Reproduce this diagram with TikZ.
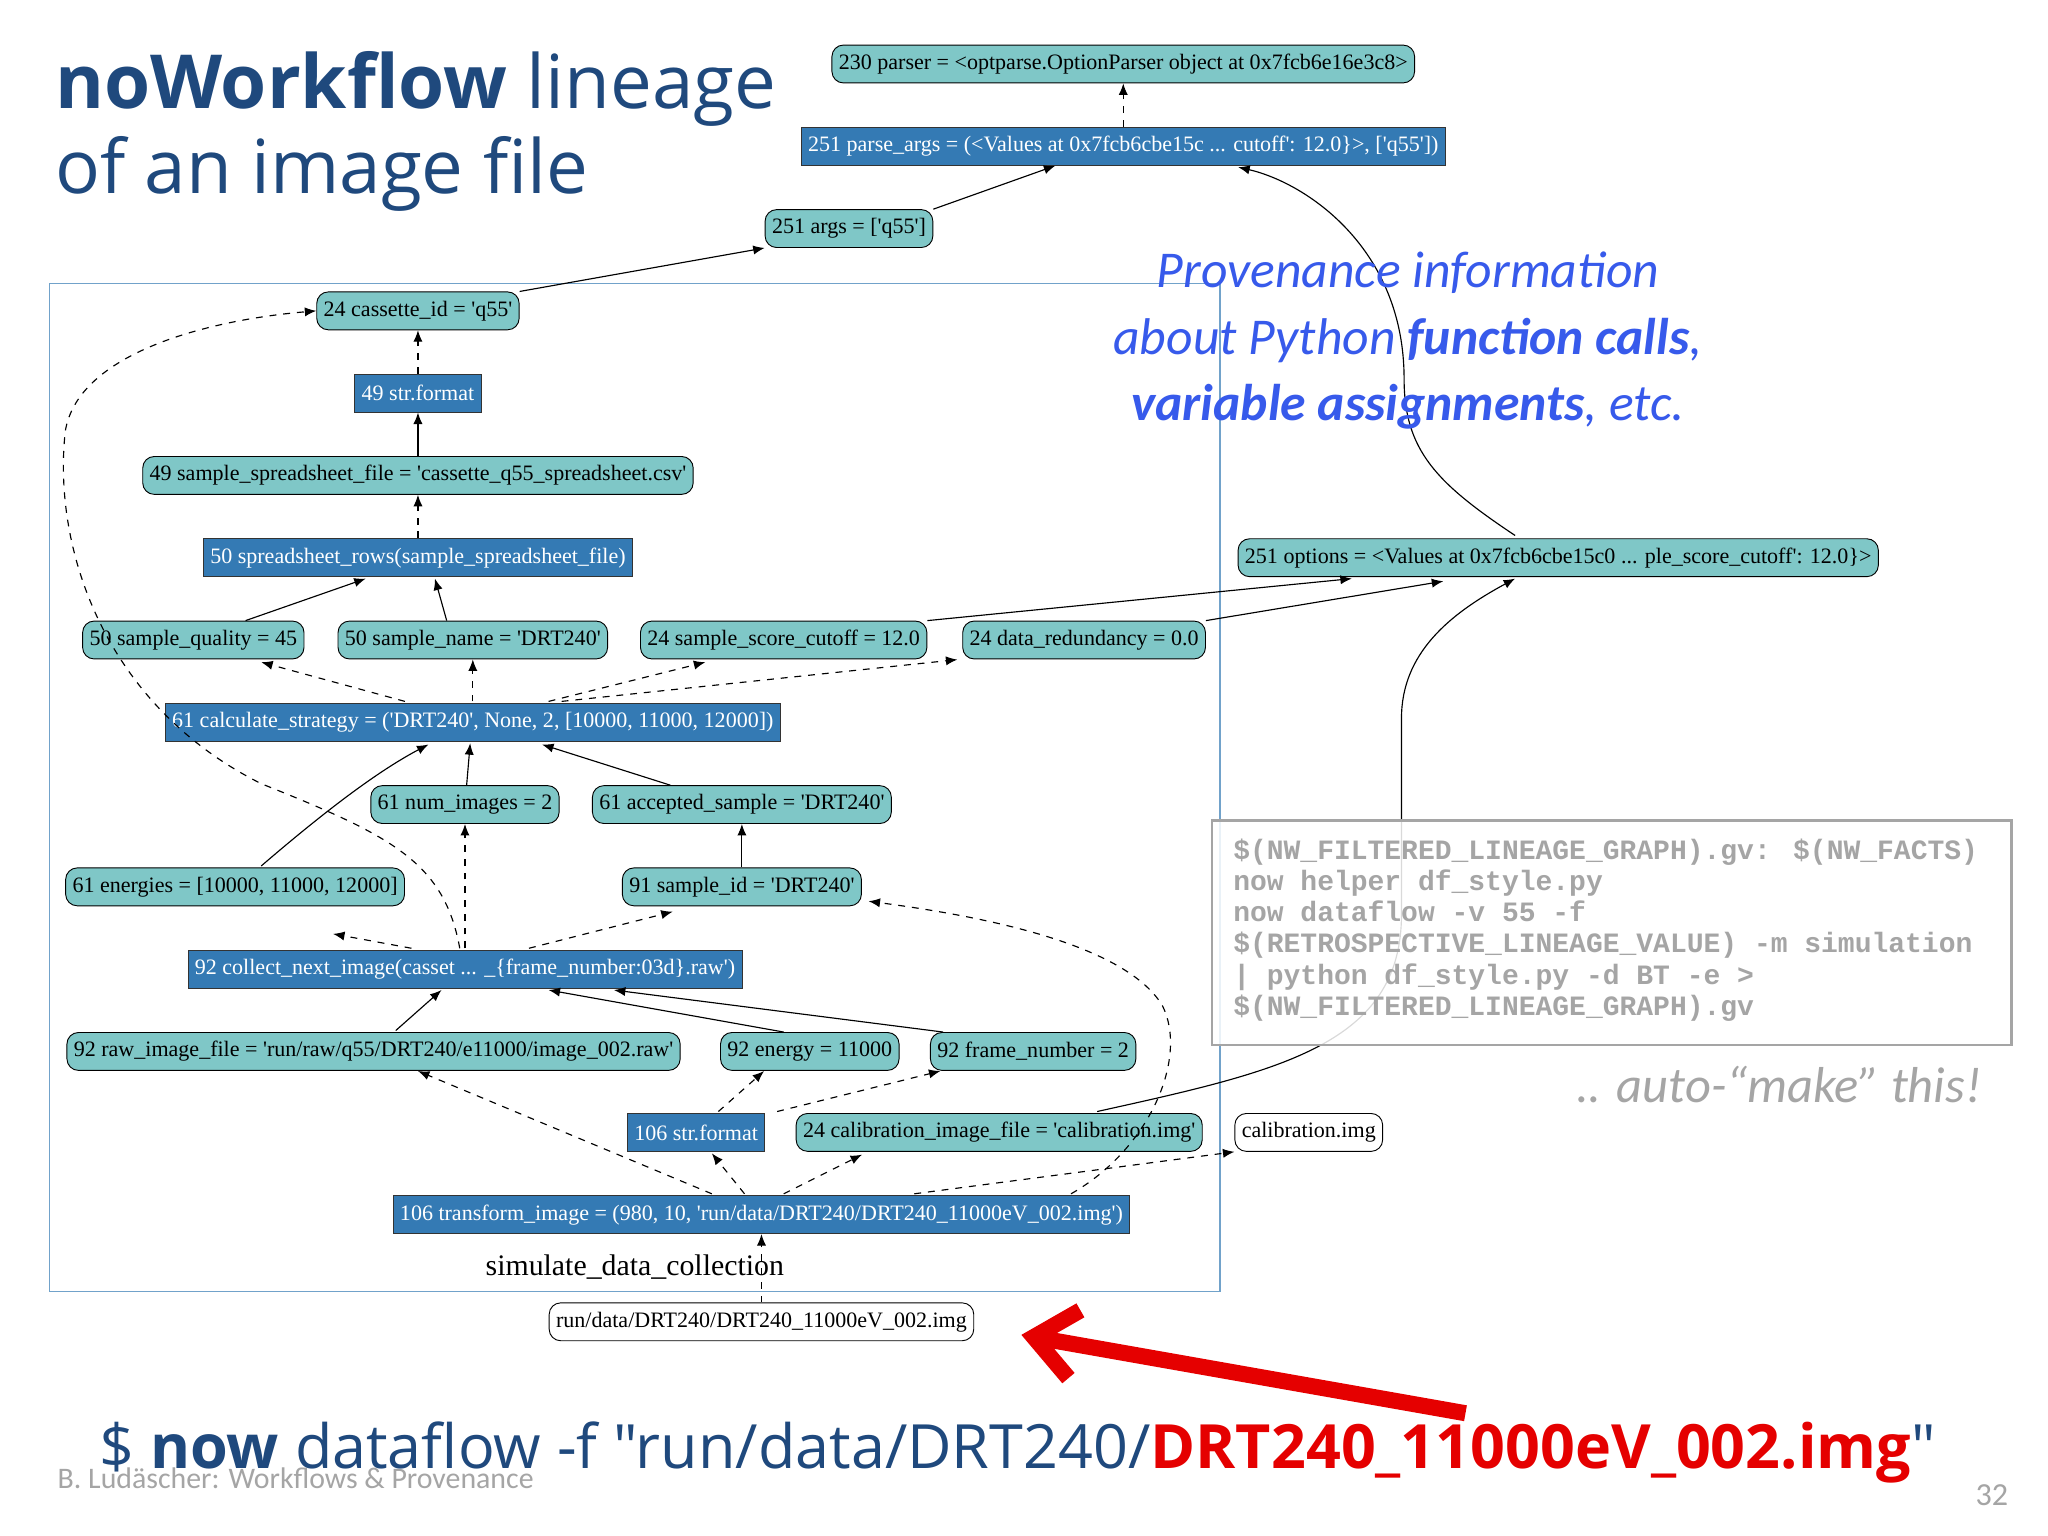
\documentclass[tikz,border=0pt]{standalone}
\usepackage{fontspec}
\setmainfont{Liberation Serif}[Ligatures=TeXOff]
\newfontfamily\osans{Open Sans}
\newfontfamily\carl{Carlito}
\newfontfamily\lmono{Liberation Mono}
\usetikzlibrary{arrows.meta}
\definecolor{teal1}{RGB}{127,199,199}
\definecolor{blu1}{RGB}{52,122,180}
\definecolor{ttl}{RGB}{31,73,125}
\definecolor{prov}{RGB}{55,90,235}
\definecolor{gry}{RGB}{165,165,165}
\tikzset{
 base/.style={draw=black,font=\fontsize{9.6}{10}\selectfont,minimum height=0.58cm,inner xsep=3pt,inner ysep=1pt},
 tn/.style={base,fill=teal1,rounded corners=5pt},
 bn/.style={base,fill=blu1,text=white,draw=black!80},
 wn/.style={base,fill=white,rounded corners=5pt},
 ed/.style={-{Latex[length=5pt,width=4pt]},line width=0.5pt},
 dd/.style={ed,dashed}
}
\begin{document}
\begin{tikzpicture}[x=0.02cm,y=-0.02cm]
\useasboundingbox (0,0) rectangle (1568,1176);
\fill[white] (0,0) rectangle (1568,1176);
% cluster
\draw[blu1!70,line width=0.6pt] (38,217) rectangle (934,989);
\node[font=\fontsize{13}{14}\selectfont] (cl) at (486,970) {simulate\_data\_collection};
% nodes
\node[tn] (n230) at (860,49) {230 parser = <optparse.OptionParser object at 0x7fcb6e16e3c8>};
\node[bn] (pa) at (860,112) {251 parse\_args = (<Values at 0x7fcb6cbe15c ... cutoff': 12.0\}>, ['q55'])};
\node[tn] (args) at (650,175) {251 args = ['q55']};
\node[tn] (cas) at (320,238) {24 cassette\_id = 'q55'};
\node[bn] (sf49) at (320,301) {49 str.format};
\node[tn] (ssf) at (320,364) {49 sample\_spreadsheet\_file = 'cassette\_q55\_spreadsheet.csv'};
\node[bn] (sr) at (320,427) {50 spreadsheet\_rows(sample\_spreadsheet\_file)};
\node[tn] (sq) at (148,490) {50 sample\_quality = 45};
\node[tn] (sn) at (362,490) {50 sample\_name = 'DRT240'};
\node[tn] (ssc) at (600,490) {24 sample\_score\_cutoff = 12.0};
\node[tn] (dr) at (830,490) {24 data\_redundancy = 0.0};
\node[tn] (opt) at (1193,427) {251 options = <Values at 0x7fcb6cbe15c0 ... ple\_score\_cutoff': 12.0\}>};
\node[bn] (cs) at (362,553) {61 calculate\_strategy = ('DRT240', None, 2, [10000, 11000, 12000])};
\node[tn] (ni) at (356,616) {61 num\_images = 2};
\node[tn] (as) at (568,616) {61 accepted\_sample = 'DRT240'};
\node[tn] (en) at (180,679) {61 energies = [10000, 11000, 12000]};
\node[tn] (sid) at (568,679) {91 sample\_id = 'DRT240'};
\node[bn] (cni) at (356,742) {92 collect\_next\_image(casset ... \_\{frame\_number:03d\}.raw')};
\node[tn] (raw) at (286,805) {92 raw\_image\_file = 'run/raw/q55/DRT240/e11000/image\_002.raw'};
\node[tn] (en92) at (620,805) {92 energy = 11000};
\node[tn] (fn) at (791,805) {92 frame\_number = 2};
\node[bn] (sf106) at (533,867) {106 str.format};
\node[tn] (cal24) at (765,867) {24 calibration\_image\_file = 'calibration.img'};
\node[wn] (cal) at (1002,867) {calibration.img};
\node[bn] (ti) at (583,930) {106 transform\_image = (980, 10, 'run/data/DRT240/DRT240\_11000eV\_002.img')};
\node[wn] (out) at (583,1012) {run/data/DRT240/DRT240\_11000eV\_002.img};
% edges
\draw[dd] (pa) -- (n230);
\draw[ed] (args.north east) -- (pa.south west -| 808,0);
\draw[ed] (cas.north east) -- (args.south west);
\draw[dd] (sf49) -- (cas);
\draw[ed] (ssf) -- (sf49);
\draw[dd] (sr) -- (ssf);
\draw[ed] (sq.north) ++(40,0) -- (280,443);
\draw[ed] (sn.north) ++(-20,0) -- (333,443);
\draw[ed] (ssc.north east) -- (1035,443);
\draw[ed] (dr.north east) -- (1105,445);
\draw[ed] (1160,410) .. controls (1100,370) and (1075,345) .. (1075,290) .. controls (1075,190) and (1000,140) .. (948,128);
\draw[dd] (310,537) -- (200,507);
\draw[dd] (362,537) -- (sn);
\draw[dd] (420,537) -- (540,507);
\draw[dd] (430,537) -- (733,505);
\draw[ed] (ni) -- (360,569);
\draw[ed] (as.north west) ++(60,0) -- (415,570);
\draw[ed] (200,663) .. controls (250,620) and (290,590) .. (328,570);
\draw[ed] (sid) -- (as);
\draw[dd] (315,726) -- (255,715);
\draw[dd] (356,726) -- (ni);
\draw[dd] (405,726) -- (515,698);
\draw[dd] (352,726) .. controls (340,660) and (300,640) .. (200,600) .. controls (80,540) and (40,420) .. (50,330) .. controls (60,270) and (160,245) .. (cas.west);
\draw[ed] (303,789) -- (338,758);
\draw[ed] (en92.north) ++(-20,0) -- (420,758);
\draw[ed] (fn.north west) ++(10,0) -- (470,758);
\draw[dd] (545,914) -- (320,820);
\draw[dd] (570,914) -- (545,883);
\draw[dd] (550,851) -- (585,820);
\draw[dd] (595,851) -- (720,820);
\draw[dd] (600,914) -- (660,884);
\draw[dd] (700,914) -- (cal.south west);
\draw[dd] (820,914) .. controls (880,880) and (910,810) .. (890,770) .. controls (860,720) and (740,700) .. (665,690);
\draw[ed] (840,851) .. controls (980,820) and (1073,800) .. (1073,700) -- (1073,550) .. controls (1073,500) and (1110,470) .. (1160,443);
\draw[dd] (out) -- (ti);
% title
\node[anchor=west,text=ttl,font=\osans\fontsize{32.5}{36}\selectfont] (t1) at (36,68) {\textbf{noWorkflow} lineage};
\node[anchor=west,text=ttl,font=\osans\fontsize{32.5}{36}\selectfont] (t2) at (36,133) {of an image file};
% annotation
\node[text=prov,font=\carl\itshape\fontsize{22.5}{26}\selectfont,align=center] (ann) at (1078,261) {Provenance information\\[3pt] about Python \textbf{function calls},\\[3pt] \textbf{variable assignments}, etc.};
% code box
\draw[gry,line width=1.2pt,fill=white,fill opacity=0.85] (928,628) rectangle (1540,800);
\node[anchor=north west,text=gry,font=\lmono\bfseries\fontsize{12.2}{13.6}\selectfont,align=left] (code) at (938,636) {\$(NW\_FILTERED\_LINEAGE\_GRAPH).gv: \$(NW\_FACTS)\\now helper df\_style.py\\now dataflow -v 55 -f\\\$(RETROSPECTIVE\_LINEAGE\_VALUE) -m simulation\\| python df\_style.py -d BT -e >\\\$(NW\_FILTERED\_LINEAGE\_GRAPH).gv};
\node[text=gry,font=\carl\itshape\fontsize{22}{26}\selectfont] (auto) at (1362,830) {.. auto-“make” this!};
% red arrow
\coordinate (ra) at (1122,1082);
\draw[red!90!black,line width=7pt,-{Straight Barb[length=18pt,width=30pt]}] (ra) -- (782,1022);
% bottom
\node[anchor=west,text=gry,font=\carl\fontsize{13}{15}\selectfont] (foot) at (38,1132) {B. Ludäscher: Workflows \& Provenance};
\node[anchor=west,text=ttl,font=\osans\fontsize{26.6}{30}\selectfont] (cmd) at (70,1112) {\$ \textbf{now} dataflow -f "run/data/DRT240/\textcolor{red!90!black}{\textbf{DRT240\_11000eV\_002.img}}"};
\node[text=gry,font=\carl\fontsize{14}{16}\selectfont] (pg) at (1525,1145) {32};
\end{tikzpicture}
\end{document}
